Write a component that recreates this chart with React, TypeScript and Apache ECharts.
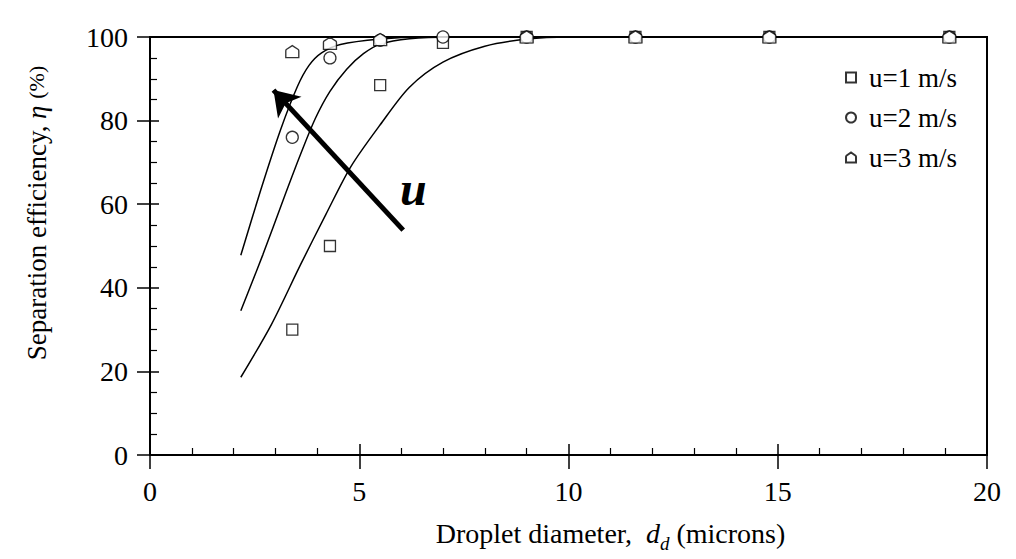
import React, { useEffect, useRef } from "react";
import * as echarts from "echarts";

// Measured droplet diameters (microns) for the experimental points
const diameters = [3.4, 4.3, 5.5, 7.0, 9.0, 11.6, 14.8, 19.1];
// Separation efficiency (%) for each air velocity
const effU1 = [30, 50, 88.5, 98.6, 100, 100, 100, 100];
const effU2 = [76, 95, 99.2, 100, 100, 100, 100, 100];
const effU3 = [96.5, 98.5, 99.4, 100.2, 100, 100, 100, 100];

// Model curves
const curveD1 = [2.17, 2.9, 3.6, 4.2, 4.8, 5.5, 6.2, 7.0, 8.0, 9.0, 10, 19.1];
const curveE1 = [18.6, 31.2, 45.6, 57.5, 69, 79, 88, 94, 97.8, 99.5, 100, 100];
const curveD2 = [2.17, 2.7, 3.2, 3.6, 3.95, 4.3, 4.7, 5.1, 5.5, 6.2, 7.2, 19.1];
const curveE2 = [34.5, 48, 61.5, 72, 80.5, 87, 92.3, 96, 98.3, 99.6, 100, 100];
const curveD3 = [2.17, 2.65, 3.12, 3.52, 3.8, 4.1, 4.55, 5.5, 6.5, 19.1];
const curveE3 = [47.8, 63.5, 77.8, 88.1, 93.2, 96.2, 98.2, 99.5, 100, 100];

const seriesNames = ["u=1 m/s", "u=2 m/s", "u=3 m/s"];
const xTickValues = [0, 5, 10, 15, 20];
const yTickValues = [0, 20, 40, 60, 80, 100];

// Arrow annotation (start -> end) and its label position, in data coordinates
const arrowFrom = [6.05, 53.8];
const arrowTo = [2.95, 87.3];
const arrowLabelAt = [6.29, 63.8];

const FONT = "'Liberation Serif', 'Times New Roman', serif";
const HOUSE = "path://M0,12 L0,5 Q0,4.2 0.8,3.6 L6,0 L11.2,3.6 Q12,4.2 12,5 L12,12 Z";

const zip = (xs: number[], ys: number[]) => xs.map((x, i) => [x, ys[i]]);

export default function App() {
  const ref = useRef<HTMLDivElement>(null);

  useEffect(() => {
    if (!ref.current) return;
    const chart = echarts.init(ref.current, null, { renderer: "svg" });

    const markerStyle = { color: "#ffffff", borderColor: "#000", borderWidth: 1.3 };
    const lineStyle = { color: "#000", width: 1.5 };

    const axisLabelX = { fontFamily: FONT, fontSize: 28, color: "#000", margin: 22 };
    const axisLabelY = { fontFamily: FONT, fontSize: 28, color: "#000", margin: 22 };

    chart.setOption({
      animation: false,
      backgroundColor: "#fff",
      grid: {
        left: 150,
        right: 29,
        top: 37,
        bottom: 104,
        show: true,
        borderColor: "#000",
        borderWidth: 2,
        backgroundColor: "transparent",
        outerBoundsMode: "none",
      },
      legend: {
        orient: "vertical",
        right: 54,
        top: 59,
        itemWidth: 10,
        itemHeight: 10,
        itemGap: 13,
        selectedMode: false,
        data: seriesNames,
        textStyle: { fontFamily: FONT, fontSize: 27, color: "#000", padding: [0, 0, 0, 8] },
      },
      xAxis: [
        {
          type: "value",
          min: 0,
          max: 20,
          interval: 5,
          position: "bottom",
          axisLine: { show: true, lineStyle: { color: "#000", width: 2 } },
          axisTick: { show: true, inside: false, length: 14, lineStyle: { color: "#000", width: 1.5 } },
          axisLabel: {
            ...axisLabelX,
            formatter: (v: number) => (xTickValues.includes(v) ? String(v) : ""),
          },
          splitLine: { show: false },
          name: "{t|Droplet diameter,  }{it|d}{sub|d}{t| (microns)}",
          nameLocation: "middle",
          nameGap: 64,
          nameTextStyle: {
            fontFamily: FONT,
            fontSize: 28,
            color: "#000",
            padding: [0, 0, 0, 84],
            rich: {
              t: { fontFamily: FONT, fontSize: 28, color: "#000", verticalAlign: "bottom", padding: [0, 0, 6, 0] },
              it: {
                fontFamily: FONT,
                fontSize: 28,
                fontStyle: "italic",
                color: "#000",
                verticalAlign: "bottom",
                padding: [0, 0, 6, 0],
              },
              sub: { fontFamily: FONT, fontSize: 19, fontStyle: "italic", color: "#000", verticalAlign: "bottom" },
            },
          },
        },
        {
          type: "value",
          min: 0,
          max: 20,
          interval: 5,
          position: "bottom",
          axisLine: { show: false },
          axisTick: { show: true, inside: true, length: 11, lineStyle: { color: "#000", width: 1.5 } },
          minorTick: { show: true, splitNumber: 5, length: 7, lineStyle: { color: "#000", width: 1.2 } },
          axisLabel: { show: false },
          splitLine: { show: false },
          minorSplitLine: { show: false },
        },
      ],
      yAxis: [
        {
          type: "value",
          min: 0,
          max: 100,
          interval: 20,
          position: "left",
          axisLine: { show: true, lineStyle: { color: "#000", width: 2 } },
          axisTick: { show: true, inside: false, length: 13, lineStyle: { color: "#000", width: 1.5 } },
          axisLabel: {
            ...axisLabelY,
            formatter: (v: number) => (yTickValues.includes(v) ? String(v) : ""),
          },
          splitLine: { show: false },
          name: "{t|Separation efficiency, }{it|η}{t| }{s|(%)}",
          nameLocation: "middle",
          nameGap: 100,
          nameTextStyle: {
            fontFamily: FONT,
            fontSize: 27,
            color: "#000",
            padding: [0, 0, 0, 66],
            rich: {
              t: { fontFamily: FONT, fontSize: 27, color: "#000" },
              it: { fontFamily: FONT, fontSize: 27, fontStyle: "italic", color: "#000" },
              s: { fontFamily: FONT, fontSize: 22, color: "#000" },
            },
          },
        },
        {
          type: "value",
          min: 0,
          max: 100,
          interval: 20,
          position: "left",
          axisLine: { show: false },
          axisTick: { show: true, inside: true, length: 9, lineStyle: { color: "#000", width: 1.5 } },
          minorTick: { show: true, splitNumber: 4, length: 7, lineStyle: { color: "#000", width: 1.2 } },
          axisLabel: { show: false },
          splitLine: { show: false },
          minorSplitLine: { show: false },
        },
      ],
      series: [
        {
          name: "curve-u1",
          type: "line",
          xAxisIndex: 0,
          yAxisIndex: 0,
          data: zip(curveD1, curveE1),
          showSymbol: false,
          smooth: 0.3,
          lineStyle,
          silent: true,
          z: 2,
          markLine: {
            silent: true,
            symbol: ["none", "arrow"],
            symbolSize: 24,
            label: { show: false },
            lineStyle: { color: "#000", width: 5, type: "solid" },
            emphasis: { disabled: true },
            data: [[{ coord: arrowFrom }, { coord: arrowTo }]],
          },
          markPoint: {
            silent: true,
            symbol: "circle",
            symbolSize: 1,
            itemStyle: { color: "transparent" },
            label: {
              show: true,
              position: "inside",
              formatter: "u",
              fontFamily: FONT,
              fontSize: 48,
              fontStyle: "italic",
              fontWeight: "bold",
              color: "#000",
            },
            data: [{ coord: arrowLabelAt }],
          },
        },
        {
          name: "curve-u2",
          type: "line",
          data: zip(curveD2, curveE2),
          showSymbol: false,
          smooth: 0.3,
          lineStyle,
          silent: true,
          z: 2,
        },
        {
          name: "curve-u3",
          type: "line",
          data: zip(curveD3, curveE3),
          showSymbol: false,
          smooth: 0.3,
          lineStyle,
          silent: true,
          z: 2,
        },
        {
          name: seriesNames[0],
          type: "scatter",
          data: zip(diameters, effU1),
          symbol: "rect",
          symbolSize: 11,
          itemStyle: markerStyle,
          z: 4,
        },
        {
          name: seriesNames[1],
          type: "scatter",
          data: zip(diameters, effU2),
          symbol: "circle",
          symbolSize: 12,
          itemStyle: markerStyle,
          z: 5,
        },
        {
          name: seriesNames[2],
          type: "scatter",
          data: zip(diameters, effU3),
          symbol: HOUSE,
          symbolSize: [13, 12],
          itemStyle: markerStyle,
          z: 6,
        },
      ],
    });

    return () => chart.dispose();
  }, []);

  return (
    <div
      ref={ref}
      style={{ position: "absolute", left: 0, top: 0, width: 1016, height: 559, background: "#fff" }}
    />
  );
}
